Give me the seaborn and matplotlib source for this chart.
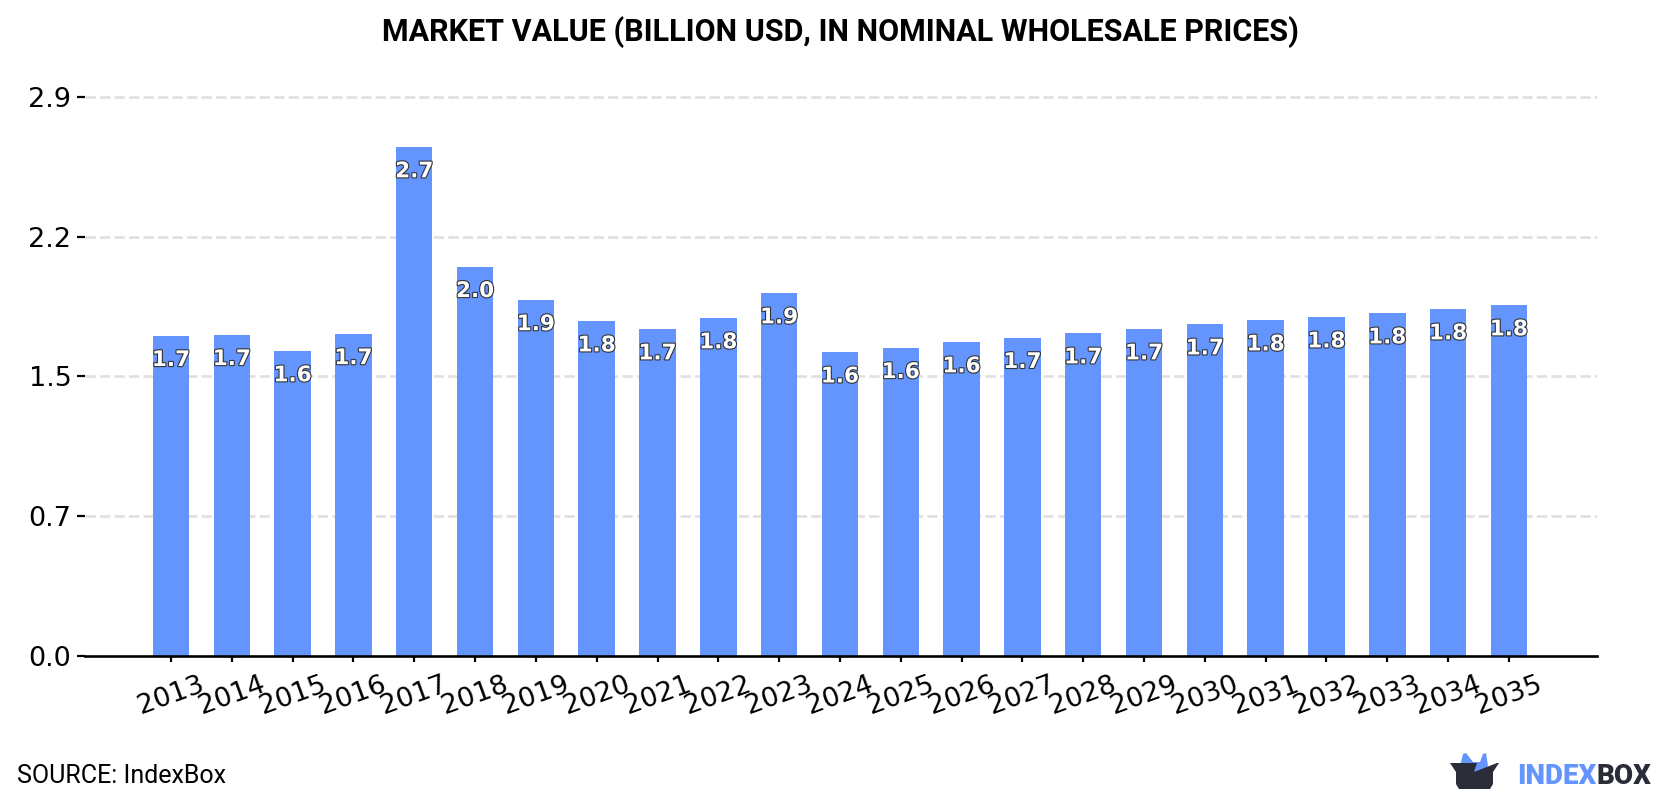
import matplotlib
matplotlib.use("Agg")
import matplotlib.pyplot as plt
import matplotlib.patheffects as pe
from matplotlib.patches import Polygon
import seaborn as sns

years = [2013, 2014, 2015, 2016, 2017, 2018, 2019, 2020, 2021, 2022, 2023, 2024,
         2025, 2026, 2027, 2028, 2029, 2030, 2031, 2032, 2033, 2034, 2035]
market_value = [1.680, 1.685, 1.600, 1.690, 2.670, 2.042, 1.868, 1.757, 1.715, 1.773,
                1.904, 1.594, 1.617, 1.647, 1.670, 1.694, 1.715, 1.741, 1.762, 1.778,
                1.799, 1.820, 1.841]
y_ticks = [0.0, 0.7335, 1.467, 2.2005, 2.934]
title_text = "MARKET VALUE (BILLION USD, IN NOMINAL WHOLESALE PRICES)"
source_text = "SOURCE: IndexBox"

BAR = "#6495ff"
DARK = "#2a2c38"
W, H = 1680, 800

sns.set_theme(style="white")
fig = plt.figure(figsize=(W / 100, H / 100), dpi=100, facecolor="white")
ax = fig.add_axes([85 / W, 1 - 656 / H, (1596.5 - 85) / W, (656 - 96.7) / H])

sns.barplot(x=years, y=market_value, color=BAR, saturation=1, width=0.6, ax=ax,
            zorder=3, linewidth=0, edgecolor="none")

ax.set_xlim(-1.414, 23.44)
ax.set_ylim(0, y_ticks[-1])
ax.set_yticks(y_ticks, [f"{t:.1f}" for t in y_ticks], fontsize=19.5, color="black",
              family="DejaVu Sans")
ax.set_xticks(range(len(years)), [str(y) for y in years], rotation=20, fontsize=19.5,
              color="black", family="DejaVu Sans", ha="center")
ax.tick_params(axis="y", length=5.8, width=1.6, color="black", pad=4, left=True)
ax.tick_params(axis="x", length=4.5, width=1.6, color="black", pad=6.5, bottom=True)

ax.grid(False)
for t in y_ticks[1:]:
    ax.axhline(t, color="#e0e0e0", lw=1.9, dashes=(3.9, 1.6), zorder=1, clip_on=False)

for side in ("top", "right", "left"):
    ax.spines[side].set_visible(False)
ax.spines["bottom"].set_color("black")
ax.spines["bottom"].set_linewidth(1.9)
ax.spines["bottom"].set_zorder(6)

# value labels sit just inside the top of each bar
for i, v in enumerate(market_value):
    ax.annotate(f"{v:.1f}", (i, v), xytext=(0, -17.5), textcoords="offset points",
                ha="center", va="center", fontsize=15.5, fontweight="bold", color="white",
                family="DejaVu Sans", zorder=5,
                path_effects=[pe.withStroke(linewidth=1.6, foreground="#333333")])

fig.text(0.5, 1 - 32 / H, title_text, ha="center", va="center", fontsize=22,
         fontweight="bold", family="Roboto", color="black")
fig.text(17 / W, 1 - 776 / H, source_text, ha="left", va="center", fontsize=18,
         family="Roboto", color="black")

# IndexBox wordmark and box logo, placed in pixel coordinates
logo = fig.add_axes([0, 0, 1, 1], facecolor="none", zorder=10)
logo.set_xlim(0, W)
logo.set_ylim(H, 0)
logo.axis("off")
logo.add_patch(Polygon([(1460, 766), (1463, 754), (1466, 753), (1473, 762), (1480, 762),
                        (1483, 754), (1486, 753), (1488, 766), (1480, 774), (1462, 774)],
                       closed=True, fc=BAR, ec="none"))
logo.add_patch(Polygon([(1450, 763), (1477, 763), (1474, 772), (1497, 763), (1499, 763),
                        (1493, 772), (1493, 784), (1490, 789), (1459, 789), (1456, 784),
                        (1456, 772)],
                       closed=True, fc=DARK, ec="none"))
t1 = logo.text(1517, 776, "INDEX", ha="left", va="center", fontsize=20, fontweight="black",
               family="Roboto", color=BAR)
fig.canvas.draw()
box = t1.get_window_extent()
logo.text(box.x1, 776, "BOX", ha="left", va="center", fontsize=20, fontweight="black",
          family="Roboto", color=DARK)

fig.savefig("out.png", dpi=100, facecolor="white")
